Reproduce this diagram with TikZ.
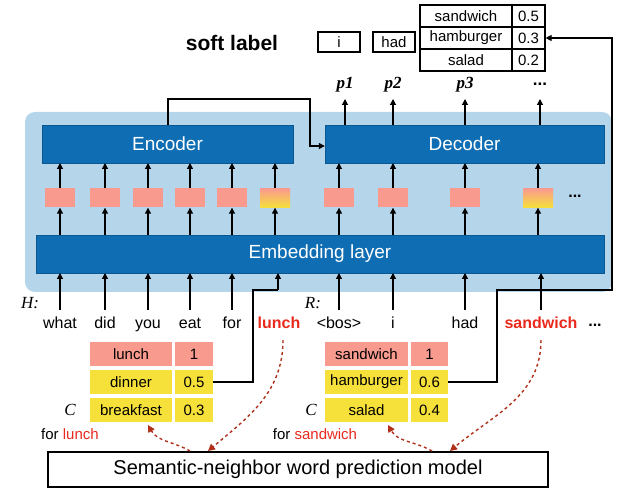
\documentclass[tikz,border=0pt]{standalone}
\usepackage{fontspec}
\setmainfont{Liberation Sans}
\newfontfamily\tms{Liberation Serif}
\usetikzlibrary{arrows.meta}
\definecolor{bgblue}{HTML}{B5D5EA}
\definecolor{dblue}{HTML}{0E6DB3}
\definecolor{salm}{HTML}{F99A8F}
\definecolor{yel}{HTML}{F6E03A}
\definecolor{rd}{HTML}{E8291C}
\definecolor{drd}{HTML}{B0301A}
\begin{document}
\begin{tikzpicture}[x=1pt,y=-1pt,
  blk/.style={fill=dblue,draw=dblue!80!black,text=white,font=\fontsize{19}{19}\selectfont},
  emb/.style={fill=salm,minimum width=30pt,minimum height=19pt,inner sep=0},
  embg/.style={top color=salm,bottom color=yel,minimum width=30pt,minimum height=19pt,inner sep=0},
  wd/.style={font=\fontsize{16}{16}\selectfont,anchor=base},
  ar/.style={-{Triangle[length=6pt,width=6pt]},line width=1.2pt},
  ln/.style={line width=1.2pt},
  cell/.style={minimum height=24pt,inner sep=0,font=\fontsize{15}{15}\selectfont},
  tc/.style={draw,line width=1.2pt,minimum height=22pt,inner sep=0,font=\fontsize{15}{15}\selectfont},
  dsh/.style={drd,dashed,line width=1.4pt,-{Triangle[length=7pt,width=7pt]}},
  it/.style={font=\tms\itshape\fontsize{17}{17}\selectfont}]
\useasboundingbox (0,0) rectangle (625,494);
\fill[bgblue,rounded corners=10pt] (25,112) rectangle (612,292);
\node[blk,minimum width=251pt,minimum height=38pt] (enc) at (167.5,144) {Encoder};
\node[blk,minimum width=279pt,minimum height=38pt] (dec) at (464.5,144) {Decoder};
\node[blk,minimum width=568pt,minimum height=38pt] (embl) at (320,254) {Embedding layer};
% hidden reps
\foreach \n/\x in {e1/60,e2/105,e3/148,e4/190,e5/232}{\node[emb] (\n) at (\x,198) {};}
\node[embg] (e6) at (275,198) {};
\foreach \n/\x in {d1/339,d2/393,d3/465}{\node[emb] (\n) at (\x,198) {};}
\node[embg] (d4) at (538,198) {};
\node[font=\bfseries\fontsize{16}{16}\selectfont] (dd) at (575,196) {...};
\foreach \n/\x in {e1/60,e2/105,e3/148,e4/190,e5/232,e6/275,d1/339,d2/393,d3/465,d4/538}{
  \coordinate (b\n) at (\x,235); \coordinate (t\n) at (\x,163);
  \draw[ar] (b\n) -- (\n.south); \draw[ar] (\n.north) -- (t\n);}
% words
\foreach \n/\x/\t in {w1/60/what,w2/105/did,w3/148/you,w4/190/eat,w5/232/for,w7/339/<bos>,w8/393/i,w9/465/had}{
  \node[wd] (\n) at (\x,329) {\t};}
\node[wd,text=rd,font=\bfseries\fontsize{16}{16}\selectfont] (w6) at (279,329) {lunch};
\node[wd,text=rd,font=\bfseries\fontsize{16}{16}\selectfont] (w10) at (541,329) {sandwich};
\node[wd,font=\bfseries\fontsize{16}{16}\selectfont] (w11) at (595,327) {...};
\foreach \n/\x in {w1/60,w2/105,w3/148,w4/190,w5/232,w7/339,w8/393,w9/465,w10/541}{
  \coordinate (u\n) at (\x,310); \coordinate (v\n) at (\x,273);
  \draw[ar] (u\n) -- (v\n);}
\coordinate (vw6) at (278,273);
\node[it] (H) at (30,303) {H:};
\node[it] (R) at (313,303) {R:};
% enc -> dec
\coordinate (c1) at (168,99); \coordinate (c2) at (310,99); \coordinate (c3) at (310,146);
\draw[ar] (enc.north -| c1) -- (c1) -- (c2) -- (c3) -- (c3 -| dec.west);
% p labels
\foreach \n/\x/\t in {p1/345/p1,p2/393/p2,p3/465/p3}{
  \node[font=\tms\bfseries\itshape\fontsize{17}{17}\selectfont] (\n) at (\x,85) {\t};
  \coordinate (q\n) at (\x,125); \draw[ar] (q\n) -- (\x,99);}
\node[font=\bfseries\fontsize{17}{17}\selectfont] (p4) at (540,84) {...};
\coordinate (qp4) at (540,125); \draw[ar] (qp4) -- (540,99);
% soft label
\node[font=\bfseries\fontsize{21}{21}\selectfont] (soft) at (232,43) {soft label};
\node[tc,minimum width=42pt,minimum height=20pt] (si) at (339,42) {i};
\node[tc,minimum width=42pt,minimum height=20pt] (sh) at (394,42) {had};
\node[tc,minimum width=92pt] (s1) at (466,16) {sandwich};
\node[tc,minimum width=33pt] (v1) at (528.5,16) {0.5};
\node[tc,minimum width=92pt] (s2) at (466,38) {hamburger};
\node[tc,minimum width=33pt] (v2) at (528.5,38) {0.3};
\node[tc,minimum width=92pt] (s3) at (466,60) {salad};
\node[tc,minimum width=33pt] (v3) at (528.5,60) {0.2};
% left table
\node[cell,fill=salm,minimum width=82pt] (l1) at (131,354) {lunch};
\node[cell,fill=salm,minimum width=38pt] (lv1) at (194,354) {1};
\node[cell,fill=yel,minimum width=82pt] (l2) at (131,382) {dinner};
\node[cell,fill=yel,minimum width=38pt] (lv2) at (194,382) {0.5};
\node[cell,fill=yel,minimum width=82pt] (l3) at (131,410) {breakfast};
\node[cell,fill=yel,minimum width=38pt] (lv3) at (194,410) {0.3};
\node[cell,fill=salm,minimum width=83pt] (r1) at (366.5,354) {sandwich};
\node[cell,fill=salm,minimum width=37pt] (rv1) at (429.5,354) {1};
\node[cell,fill=yel,minimum width=83pt] (r2) at (366.5,382) {hamburger};
\node[cell,fill=yel,minimum width=37pt] (rv2) at (429.5,382) {0.6};
\node[cell,fill=yel,minimum width=83pt] (r3) at (366.5,410) {salad};
\node[cell,fill=yel,minimum width=37pt] (rv3) at (429.5,410) {0.4};
\node[it] (C1) at (70,410) {C};
\node[it] (C2) at (311,410) {C};
\node[font=\fontsize{15}{15}\selectfont] (fl) at (70,434) {for \textcolor{rd}{lunch}};
\node[font=\fontsize{15}{15}\selectfont] (fs) at (315,434) {for \textcolor{rd}{sandwich}};
% connectors from tables
\coordinate (k1) at (253,382); \coordinate (k2) at (253,290); \coordinate (k3) at (278,290);
\draw[ln] (lv2.east) -- (k1) -- (k2) -- (k3);
\draw[ar] (k3) -- (vw6);
\coordinate (m1) at (497,382); \coordinate (m2) at (497,290); \coordinate (m3) at (612,290); \coordinate (m4) at (612,38);
\draw[ar] (rv2.east) -- (m1) -- (m2) -- (m3) -- (m4) -- (v2.east);
% model
\node[draw,line width=1.2pt,minimum width=500pt,minimum height=35pt,font=\fontsize{20}{20}\selectfont] (model) at (298,469.5) {Semantic-neighbor word prediction model};
\coordinate (x1) at (208,451); \coordinate (x2) at (190,451);
\coordinate (y1) at (450,451); \coordinate (y2) at (432,451);
\draw[dsh] (283,340) to[out=-90,in=40] (x1);
\draw[dsh] (x2) to[out=150,in=-60] (148,425);
\draw[dsh] (541,340) to[out=-90,in=40] (y1);
\draw[dsh] (y2) to[out=150,in=-60] (388,425);
\end{tikzpicture}
\end{document}
